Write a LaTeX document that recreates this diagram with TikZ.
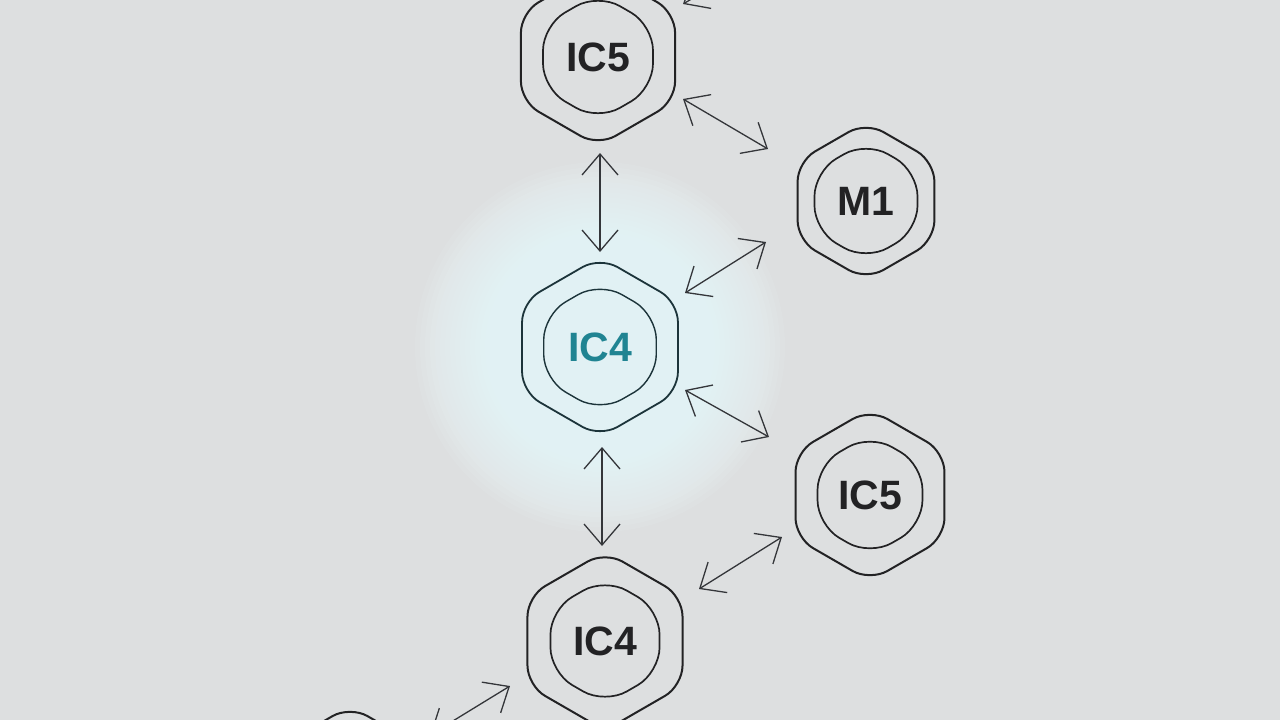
\documentclass[tikz,border=0pt]{standalone}
\usepackage{fontspec}
\setmainfont{Liberation Sans}
\usetikzlibrary{shapes.geometric,arrows.meta,calc}
\definecolor{bgc}{RGB}{221,223,224}
\definecolor{ink}{RGB}{34,34,36}
\definecolor{inkteal}{RGB}{28,52,58}
\definecolor{arrc}{RGB}{52,54,58}
\definecolor{tealc}{RGB}{32,132,146}
\definecolor{glowc}{RGB}{236,252,255}
\newcommand{\innerhexagon}[3]{% center, R, extra style
  \draw[ink, line width=1.7pt, rounded corners=25pt, line cap=round, #3]
    ($(#1)+(0:{#2*0.8660})$) -- ($(#1)+(30:#2)$) -- ($(#1)+(90:#2)$) -- ($(#1)+(150:#2)$)
    -- ($(#1)+(210:#2)$) -- ($(#1)+(270:#2)$) -- ($(#1)+(330:#2)$) -- ($(#1)+(0:{#2*0.8660})$);}
\tikzset{
  outerhex/.style={draw=ink, line width=2pt, regular polygon, regular polygon sides=6,
    shape border rotate=30, rounded corners=20pt, inner sep=0pt, minimum size=#1,
    font=\fontsize{41}{41}\selectfont\bfseries, text=ink},
  link/.style={draw=arrc, line width=1.3pt, line cap=round, line join=round,
    {Straight Barb[length=21pt,width=36pt,line join=miter]}-{Straight Barb[length=21pt,width=36pt,line join=miter]}},
}
\begin{document}
\begin{tikzpicture}[x=1pt,y=-1pt]
\useasboundingbox (0,0) rectangle (1280,720);
\begin{scope}
\clip (0,0) rectangle (1280,720);
\fill[bgc] (0,0) rectangle (1280,720);
% glow around the central node
\foreach \r in {30,35,...,185} {
  \fill[glowc, opacity=0.09] (600,347) circle (\r);
}

% nodes
\node[outerhex=178pt] (T) at (598,57) {IC5};
\innerhexagon{T}{63.5}{}
\node[outerhex=158pt] (M) at (866,201) {M1};
\innerhexagon{M}{59.5}{}
\node[outerhex=180pt, draw=inkteal, line width=1.8pt, text=tealc] (C) at (600,347) {IC4};
\innerhexagon{C}{65}{draw=inkteal, line width=1.4pt}
\node[outerhex=172pt] (R) at (870,495) {IC5};
\innerhexagon{R}{60.6}{}
\node[outerhex=179pt] (B) at (605,641) {IC4};
\innerhexagon{B}{63}{}
\node[outerhex=172pt] (L) at (350,792) {};
\coordinate (TR) at (770,-47);

% connectors
\draw[link] ([shift={(85,-53)}]T.center) -- (TR);
\draw[link] ([shift={(85,42)}]T.center) -- ([shift={(-98,-52)}]M.center);
\draw[link] ([shift={(2,96)}]T.center) -- ([shift={(0,-95)}]C.center);
\draw[link] ([shift={(85,-54)}]C.center) -- ([shift={(-100,41)}]M.center);
\draw[link] ([shift={(85,43)}]C.center) -- ([shift={(-101,-58)}]R.center);
\draw[link] ([shift={(2,100)}]C.center) -- ([shift={(-3,-95)}]B.center);
\draw[link] ([shift={(-88,42)}]R.center) -- ([shift={(94,-52)}]B.center);
\draw[link] ([shift={(-95,45)}]B.center) -- ([shift={(80,-57)}]L.center);
\end{scope}
\end{tikzpicture}
\end{document}
